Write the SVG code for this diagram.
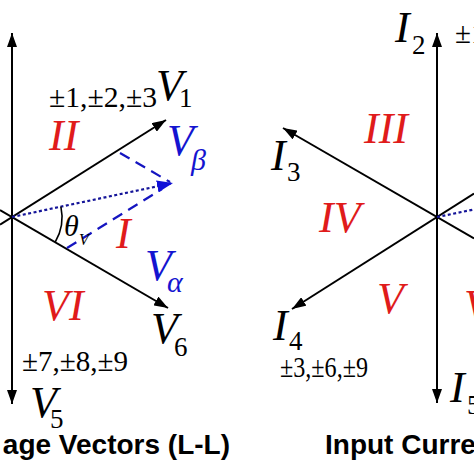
<svg xmlns="http://www.w3.org/2000/svg" width="474" height="474" viewBox="0 0 474 474">
<defs>
<marker id="ah" viewBox="0 0 14 10" refX="14" refY="5" markerWidth="14" markerHeight="10" markerUnits="userSpaceOnUse" orient="auto-start-reverse"><path d="M0,0 L14,5 L0,10 z" fill="#000"/></marker>
<marker id="bh" viewBox="0 0 16 12" refX="16" refY="6" markerWidth="16" markerHeight="12" markerUnits="userSpaceOnUse" orient="auto"><path d="M0,0 L16,6 L0,12 z" fill="#1010d8"/></marker>
<style>
.ax{stroke:#000;stroke-width:2;fill:none}
.dash{stroke:#1515c0;stroke-width:2.2;stroke-dasharray:11 7;fill:none}
.dot{stroke:#151599;stroke-width:2.2;stroke-dasharray:3 2.5;fill:none}
.sym{font-family:"Liberation Serif","Times New Roman",serif;font-style:italic;font-size:44px;fill:#000}
.sub{font-family:"Liberation Serif","Times New Roman",serif;font-size:27px;fill:#000}
.num{font-family:"Liberation Serif","Times New Roman",serif;font-size:29px;fill:#000}
.reg{font-family:"Liberation Serif","Times New Roman",serif;font-style:italic;font-size:44px;fill:#e01b1b}
.bl{fill:#1414d0}
.gr{font-family:"Liberation Serif","Times New Roman",serif;font-style:italic;font-size:30px}
.th{font-family:"Liberation Serif","Times New Roman",serif;font-style:italic;font-size:30px;fill:#000}
.thv{font-family:"Liberation Serif","Times New Roman",serif;font-style:italic;font-size:16px;fill:#000}
.ttl{font-family:"Liberation Sans",Arial,sans-serif;font-weight:bold;font-size:28px;fill:#000}
</style>
</defs>
<g id="connectors">
<line class="ax" x1="12" y1="404" x2="12" y2="33" marker-start="url(#ah)" marker-end="url(#ah)"/>
<line class="ax" x1="0" y1="224.6" x2="166" y2="120" marker-end="url(#ah)"/>
<line class="ax" x1="0" y1="210" x2="168" y2="308" marker-end="url(#ah)"/>
<line class="dash" x1="120" y1="153" x2="170" y2="182"/>
<line class="dash" x1="67" y1="248" x2="162" y2="189"/>
<line class="dot" x1="12" y1="217" x2="173" y2="183" marker-end="url(#bh)"/>
<path d="M55.2,242.2 A50,50 0 0 0 60.9,206.6" fill="none" stroke="#000" stroke-width="1.6"/>
<line class="ax" x1="437" y1="403" x2="437" y2="33" marker-start="url(#ah)" marker-end="url(#ah)"/>
<line class="ax" x1="474" y1="238.5" x2="283" y2="128" marker-end="url(#ah)"/>
<line class="ax" x1="474" y1="193.5" x2="292" y2="309" marker-end="url(#ah)"/>
<line class="dot" x1="437" y1="217" x2="474" y2="209.5"/>
</g>
<g id="V1"><text class="num" x="49" y="107" textLength="108" lengthAdjust="spacingAndGlyphs">±1,±2,±3</text><text class="sym" x="156" y="100">V</text><text class="sub" x="179" y="107">1</text></g>
<g id="V6"><text class="sym" x="151" y="343">V</text><text class="sub" x="174" y="356">6</text></g>
<g id="V5"><text class="num" x="22" y="371" textLength="106" lengthAdjust="spacingAndGlyphs">±7,±8,±9</text><text class="sym" x="30" y="417">V</text><text class="sub" x="50" y="428">5</text></g>
<g id="Vbeta"><text class="sym bl" x="167" y="155">V</text><text class="gr bl" x="191" y="170">β</text></g>
<g id="Valpha"><text class="sym bl" x="145" y="280">V</text><text class="gr bl" x="167" y="292">α</text></g>
<g id="theta"><text class="th" x="64" y="236">θ</text><text class="thv" x="79" y="245">V</text></g>
<g id="sectors-left"><text class="reg" x="49" y="150">II</text><text class="reg" x="116" y="248">I</text><text class="reg" x="42" y="320">VI</text></g>
<g id="I2"><text class="sym" x="395" y="42">I</text><text class="sub" x="412" y="54">2</text><text class="num" x="455" y="43">±1</text></g>
<g id="I3"><text class="sym" x="271" y="170">I</text><text class="sub" x="287" y="181">3</text></g>
<g id="I4"><text class="sym" x="273" y="340">I</text><text class="sub" x="289" y="350">4</text><text class="num" x="280" y="377" textLength="88" lengthAdjust="spacingAndGlyphs">±3,±6,±9</text></g>
<g id="I5"><text class="sym" x="450" y="402">I</text><text class="sub" x="467" y="414">5</text></g>
<g id="sectors-right"><text class="reg" x="364" y="143">III</text><text class="reg" x="319" y="232">IV</text><text class="reg" x="377" y="313">V</text><text class="reg" x="464" y="320">VI</text></g>
<g id="titles"><text class="ttl" x="230" y="454" text-anchor="end">age Vectors (L-L)</text><text class="ttl" x="325" y="454">Input Curre</text></g>
</svg>
